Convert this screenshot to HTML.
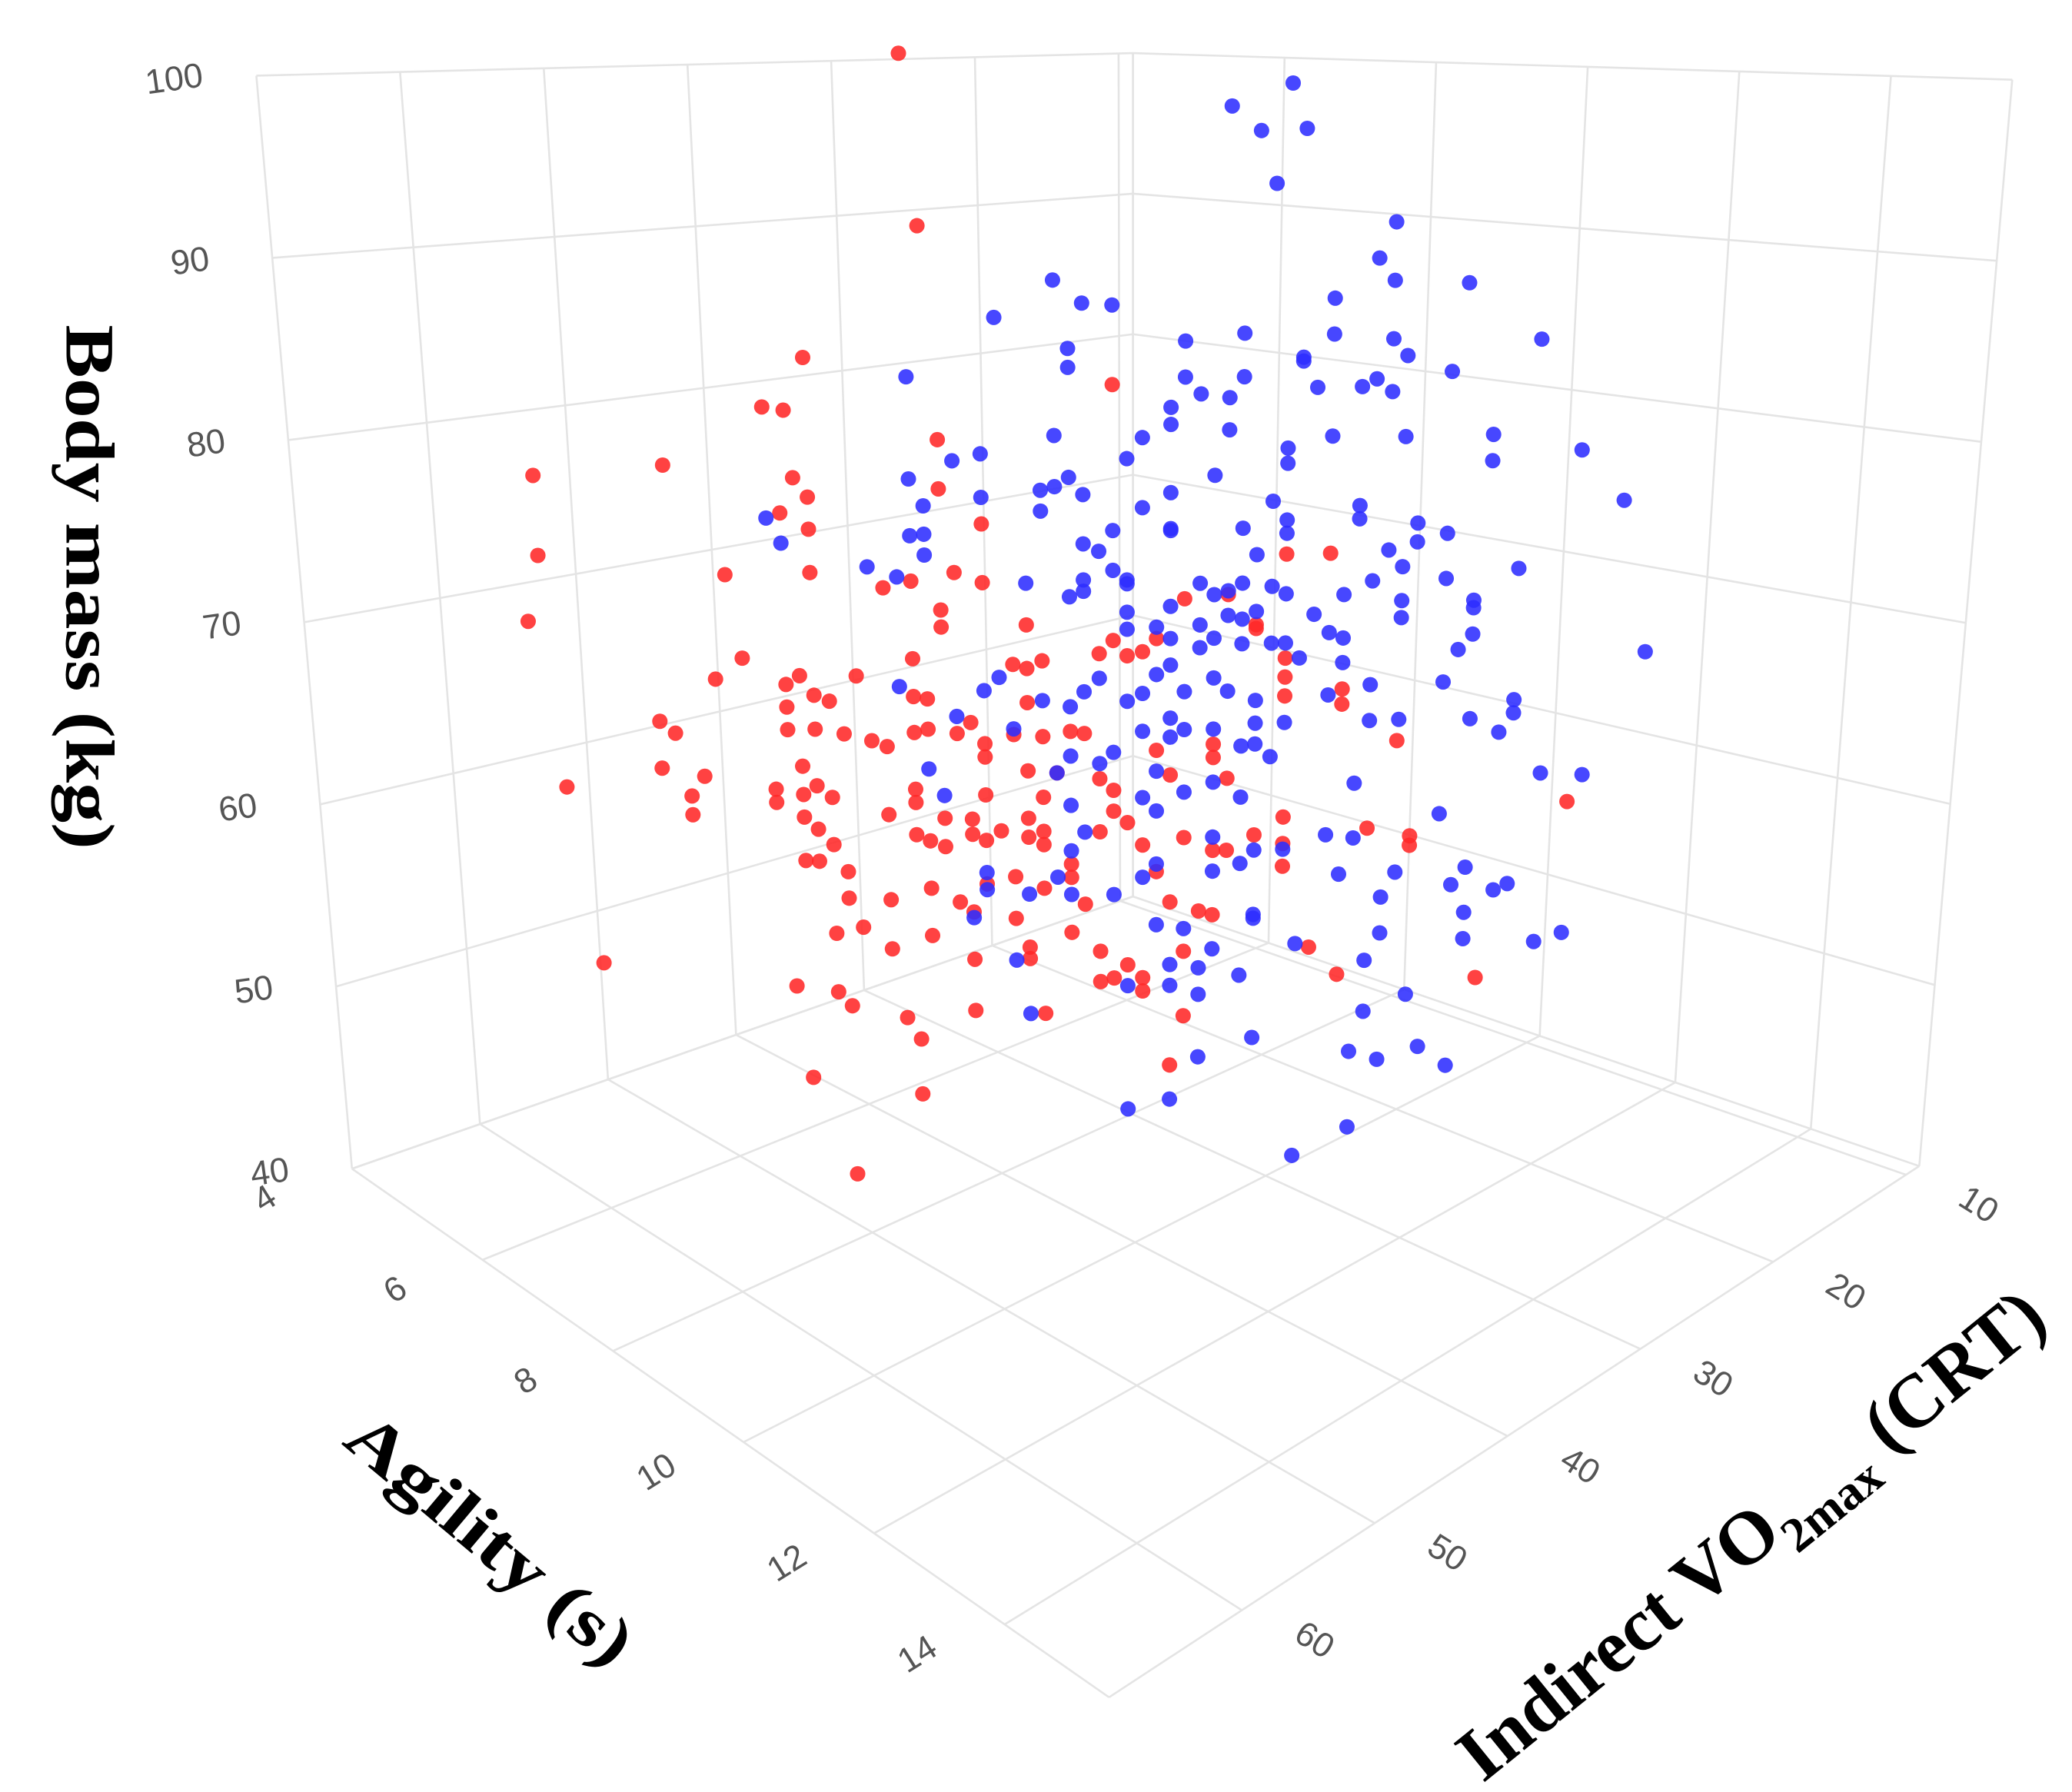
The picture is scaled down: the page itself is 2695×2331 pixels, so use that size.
<!DOCTYPE html>
<html><head><meta charset="utf-8"><style>
html,body{margin:0;padding:0;background:#fff;}
svg{display:block;}
.tick{font-family:"Liberation Sans",sans-serif;font-size:26px;fill:#555;}
.title{font-family:"Liberation Serif",serif;font-weight:bold;font-size:52px;fill:#000;}
</style></head><body>
<svg id="chart" width="2695" height="2331" viewBox="0 0 1560 1349.3" xmlns="http://www.w3.org/2000/svg">
<g id="grid"></g>
<g id="ticks"></g>
<g id="pts"></g>
<text class="title" transform="translate(50,442) rotate(90)" text-anchor="middle" textLength="395" lengthAdjust="spacingAndGlyphs">Body mass (kg)</text>
<text class="title" transform="translate(358,1172) rotate(40)" text-anchor="middle" textLength="265" lengthAdjust="spacingAndGlyphs">Agility (s)</text>
<text class="title" style="font-size:57px" transform="translate(1330,1170) rotate(-39)" text-anchor="middle">Indirect VO<tspan font-size="37" dy="15">2max</tspan><tspan dy="-15"> (CRT)</tspan></text>
</svg>
<script>
const agilityTicks=[4,6,8,10,12,14];
const vo2Ticks=[10,20,30,40,50,60];
const massTicks=[40,50,60,70,80,90,100];
const redAgility=[8.3,8.4,7.6,7.3,7.4,5.7,6.6,7.5,8.5,9.7,5.7,5.6,7.4,7.6,7.6,7.0,8.8,8.5,7.6,8.1,8.3,8.6,8.8,8.5,8.5,9.1,7.1,6.9,7.5,7.4,7.9,8.3,8.3,8.4,6.5,6.6,7.4,7.6,7.7,7.4,7.6,7.8,8.0,8.1,8.3,8.4,8.6,8.7,8.8,9.0,9.1,9.1,9.2,9.0,9.2,9.4,9.5,9.6,9.7,9.8,9.9,10.0,10.2,10.5,10.7,10.7,10.9,11.2,10.9,10.9,10.9,11.3,5.8,6.5,6.8,6.7,6.7,7.3,7.3,7.5,7.5,7.6,7.7,7.5,7.6,7.7,7.5,7.6,7.8,8.1,8.3,8.3,8.3,8.4,8.5,8.5,8.7,8.8,8.8,8.7,8.8,8.9,9.1,9.2,9.3,9.1,9.2,9.1,9.2,9.4,9.6,9.7,9.7,9.6,9.8,9.9,10.0,10.1,10.0,10.2,10.4,10.4,10.4,10.5,10.5,10.7,10.9,10.9,11.3,11.7,11.5,11.8,11.8,12.9,6.0,7.4,7.7,7.9,8.1,8.4,8.6,8.7,8.8,9.0,9.1,9.1,9.2,9.4,9.5,9.6,9.7,9.8,9.9,10.1,10.2,10.3,10.4,10.9,11.1,11.3,12.3,7.7,7.8,8.2,8.3,8.7,9.2,9.6,9.9,10.2,10.1,7.5,8.3,7.8,8.7,9.4,9.0,7.8,8.1,8.4];
const redVO2=[47.4,46.9,51.1,52.6,51.6,61.1,56.3,51.6,46.3,40.0,61.1,61.6,52.1,51.1,51.1,54.2,44.8,46.3,51.1,48.4,47.4,45.8,44.8,46.3,46.3,43.2,53.7,54.7,51.6,52.1,49.5,47.4,47.4,46.9,56.9,56.3,52.1,51.1,50.5,52.1,51.1,50.0,49.0,48.4,47.4,46.9,45.8,45.3,44.8,43.7,43.2,43.2,42.6,43.7,42.6,41.6,41.1,40.5,40.0,39.5,38.9,38.4,37.4,35.8,34.8,34.8,33.7,32.1,33.7,33.7,33.7,31.6,60.5,56.9,55.3,55.8,55.8,52.6,52.6,51.6,51.6,51.1,50.5,51.6,51.1,50.5,51.6,51.1,50.0,48.4,47.4,47.4,47.4,46.9,46.3,46.3,45.3,44.8,44.8,45.3,44.8,44.2,43.2,42.6,42.1,43.2,42.6,43.2,42.6,41.6,40.5,40.0,40.0,40.5,39.5,38.9,38.4,37.9,38.4,37.4,36.3,36.3,36.3,35.8,35.8,34.8,33.7,33.7,31.6,29.6,30.6,29.0,29.0,23.2,59.5,52.1,50.5,49.5,48.4,46.9,45.8,45.3,44.8,43.7,43.2,43.2,42.6,41.6,41.1,40.5,40.0,39.5,38.9,37.9,37.4,36.8,36.3,33.7,32.7,31.6,26.4,50.5,50.0,47.9,47.4,45.3,42.6,40.5,38.9,37.4,37.9,51.6,47.4,50.0,45.3,41.6,43.7,50.0,48.4,46.9];
const redMass=[102.1,93.0,85.9,83.2,83.0,79.0,79.9,79.5,81.7,84.7,74.7,71.1,77.6,78.5,76.8,74.2,77.3,79.1,74.5,73.8,74.2,74.7,74.2,72.7,71.8,72.0,69.8,68.6,69.0,68.5,69.1,70.1,68.1,68.0,66.2,65.6,67.3,68.0,67.7,66.1,66.2,66.0,65.7,65.4,66.2,66.4,66.2,66.8,65.7,69.9,69.7,67.9,70.1,66.2,66.1,66.4,66.3,70.5,71.2,70.4,70.6,71.3,73.4,73.6,71.8,72.0,75.7,75.7,70.2,69.2,68.2,67.7,62.3,63.7,63.4,62.3,61.3,62.9,62.2,64.2,62.7,63.2,62.6,61.5,60.9,60.1,59.2,59.2,58.7,61.8,63.2,62.5,60.8,60.5,61.7,60.2,60.9,65.0,63.0,61.7,60.6,61.1,64.3,62.9,64.2,61.8,61.1,60.8,60.4,58.7,63.9,63.3,62.2,61.1,61.6,60.4,65.4,64.1,59.0,60.8,60.1,65.0,65.7,63.9,60.1,60.9,60.4,61.8,68.5,65.7,61.1,60.6,60.1,62.0,53.0,52.5,55.4,55.8,54.7,55.5,57.3,56.8,58.3,56.5,54.4,55.0,58.1,55.8,57.3,54.8,53.4,54.1,53.4,57.4,54.8,56.9,56.7,59.2,54.9,53.4,52.9,52.3,51.6,51.1,50.0,54.3,51.5,53.2,52.7,51.4,48.8,47.7,47.1,42.7,51.6,59.4,58.7,57.3,57.3,58.0];
const blueAgility=[10.9,10.5,10.7,11.0,10.8,11.6,11.5,11.6,12.1,9.3,9.5,9.7,8.9,11.2,12.6,10.2,10.6,11.2,11.0,11.6,11.7,11.0,9.4,9.4,8.3,12.0,10.2,11.1,11.5,10.3,10.1,10.5,10.6,11.4,11.6,10.1,10.5,11.2,11.7,12.3,12.9,8.8,8.6,9.3,9.9,10.9,10.9,9.8,12.3,8.3,8.4,8.8,9.2,9.2,9.4,9.3,9.5,9.9,10.1,10.4,10.8,11.4,10.9,13.2,7.3,7.4,8.3,8.0,8.2,8.4,8.4,9.5,9.7,9.6,9.7,9.8,9.8,10.1,10.1,10.6,10.7,10.9,11.4,11.8,11.8,12.0,12.5,11.6,11.7,12.0,12.2,12.2,13.4,9.5,9.5,9.1,9.4,9.8,9.8,10.1,10.0,10.3,10.4,10.5,10.6,10.8,10.9,10.7,10.5,10.3,10.1,10.3,10.4,10.6,11.1,11.3,11.5,11.7,12.2,12.1,12.0,10.8,10.6,10.9,11.0,11.2,11.3,11.7,11.3,8.2,8.9,8.8,8.6,9.0,9.2,9.4,9.5,9.6,9.8,9.9,10.0,10.1,10.4,10.2,10.1,9.9,10.1,10.2,10.4,10.5,10.7,10.7,10.9,11.2,11.5,11.5,11.7,12.2,12.5,12.5,12.4,13.0,12.7,8.4,8.5,9.4,9.3,9.6,9.7,9.9,10.0,10.0,10.2,10.4,10.6,10.7,10.8,10.6,10.4,10.4,10.6,10.7,10.9,11.2,11.4,11.4,12.0,12.2,12.4,12.5,12.2,12.1,11.3,11.7,11.6,9.4,9.5,9.4,9.3,9.1,9.4,9.7,9.9,10.0,10.0,10.2,10.1,10.1,10.3,10.4,10.7,10.7,11.0,11.5,11.6,11.8,8.8,8.8,8.7,9.0,9.1,9.8,10.3,10.6,10.7,10.3,9.8,10.1,11.0,11.4,11.4,11.5,11.6,11.9,12.1,12.9,12.7,12.2];
const blueVO2=[33.7,35.8,34.8,33.2,34.2,30.0,30.6,30.0,27.4,42.1,41.1,40.0,44.2,32.1,24.8,37.4,35.3,32.1,33.2,30.0,29.5,33.2,41.6,41.6,47.4,27.9,37.4,32.7,30.6,36.8,37.9,35.8,35.3,31.1,30.0,37.9,35.8,32.1,29.5,26.4,23.2,44.8,45.8,42.1,38.9,33.7,33.7,39.5,26.4,47.4,46.9,44.8,42.6,42.6,41.6,42.1,41.1,38.9,37.9,36.3,34.2,31.1,33.7,21.6,52.6,52.1,47.4,49.0,47.9,46.9,46.9,41.1,40.0,40.5,40.0,39.5,39.5,37.9,37.9,35.3,34.8,33.7,31.1,29.0,29.0,27.9,25.3,30.0,29.5,27.9,26.9,26.9,20.6,41.1,41.1,43.2,41.6,39.5,39.5,37.9,38.4,36.8,36.3,35.8,35.3,34.2,33.7,34.8,35.8,36.8,37.9,36.8,36.3,35.3,32.7,31.6,30.6,29.5,26.9,27.4,27.9,34.2,35.3,33.7,33.2,32.1,31.6,29.5,31.6,47.9,44.2,44.8,45.8,43.7,42.6,41.6,41.1,40.5,39.5,38.9,38.4,37.9,36.3,37.4,37.9,38.9,37.9,37.4,36.3,35.8,34.8,34.8,33.7,32.1,30.6,30.6,29.5,26.9,25.3,25.3,25.8,22.7,24.2,46.9,46.3,41.6,42.1,40.5,40.0,38.9,38.4,38.4,37.4,36.3,35.3,34.8,34.2,35.3,36.3,36.3,35.3,34.8,33.7,32.1,31.1,31.1,27.9,26.9,25.8,25.3,26.9,27.4,31.6,29.5,30.0,41.6,41.1,41.6,42.1,43.2,41.6,40.0,38.9,38.4,38.4,37.4,37.9,37.9,36.8,36.3,34.8,34.8,33.2,30.6,30.0,29.0,44.8,44.8,45.3,43.7,43.2,39.5,36.8,35.3,34.8,36.8,39.5,37.9,33.2,31.1,31.1,30.6,30.0,28.5,27.4,23.2,24.2,26.9];
const blueMass=[100.6,99.4,98.1,98.2,95.3,93.2,91.3,90.1,89.9,90.2,89.0,88.9,88.2,89.2,86.8,87.0,87.4,87.3,86.1,87.0,86.1,85.9,86.6,85.6,85.0,85.2,85.1,84.5,84.9,84.2,83.5,84.0,85.1,84.5,84.2,82.6,82.3,81.9,81.8,81.8,80.8,81.0,80.6,82.0,81.9,81.3,80.5,80.8,80.4,79.6,78.2,78.7,79.1,78.0,79.8,79.3,78.9,78.2,79.0,79.9,78.5,78.2,77.5,78.0,77.3,76.0,76.6,74.9,74.4,76.7,75.6,76.3,77.0,75.9,74.9,74.2,74.4,77.0,77.1,77.1,75.7,76.8,77.5,77.2,76.2,76.6,74.6,75.8,74.9,74.2,73.0,72.6,69.8,74.4,73.8,74.2,73.5,72.7,71.8,73.0,71.9,74.2,73.6,73.8,74.2,74.0,73.6,72.7,72.5,72.0,71.3,70.8,71.3,72.3,72.5,73.5,74.2,73.1,71.2,70.4,68.7,71.0,71.0,71.0,70.2,71.5,69.9,72.2,71.2,68.6,69.2,68.5,67.1,66.5,68.0,67.7,68.5,69.2,68.0,68.4,69.4,69.9,69.2,68.5,67.1,66.4,66.1,66.5,66.5,68.5,68.0,66.8,66.8,68.2,68.7,66.8,66.8,66.7,67.6,66.9,65.9,63.4,63.6,64.3,62.9,65.1,64.2,64.7,65.3,62.9,64.3,62.2,63.2,63.7,65.6,65.7,65.0,62.9,60.8,59.0,59.4,60.1,60.1,60.8,60.6,63.5,61.7,58.8,57.5,57.8,56.4,57.9,58.7,58.7,57.4,62.5,61.1,60.1,58.7,57.8,57.8,57.8,58.7,59.4,56.2,56.0,54.1,53.0,53.9,54.9,56.5,56.7,55.1,54.1,55.5,52.2,58.9,58.0,56.5,54.3,51.5,53.0,52.5,53.5,50.2,49.2,46.5,47.0,43.9,45.3,49.3,51.4,48.8,49.4,48.3,55.0,54.6,55.0];

const A_MIN=4,A_MAX=15.6,V_MIN=9,V_MAX=70,M_MIN=40,M_MAX=100;
const FB=[853,675],FR=[1445,878],FL=[265,880],FF=[835,1278];
const TB=[853,40],TR=[1515,60],TL=[193,57],TF=[830,128];
function bil(P0,PR,PL,PF,s,t){
  return [P0[0]*(1-s)*(1-t)+PR[0]*s*(1-t)+PL[0]*(1-s)*t+PF[0]*s*t,
          P0[1]*(1-s)*(1-t)+PR[1]*s*(1-t)+PL[1]*(1-s)*t+PF[1]*s*t];
}
function project(a,v,m){
  const s=(a-A_MIN)/(A_MAX-A_MIN), t=(v-V_MIN)/(V_MAX-V_MIN), u=(m-M_MIN)/(M_MAX-M_MIN);
  const f=bil(FB,FR,FL,FF,s,t), p=bil(TB,TR,TL,TF,s,t);
  return [f[0]+(p[0]-f[0])*u, f[1]+(p[1]-f[1])*u];
}
const NS='http://www.w3.org/2000/svg';
const grid=document.getElementById('grid');
function line(p,q,name){
  const el=document.createElementNS(NS,'line');
  el.setAttribute('x1',p[0]);el.setAttribute('y1',p[1]);el.setAttribute('x2',q[0]);el.setAttribute('y2',q[1]);
  el.setAttribute('stroke','#e4e4e4');el.setAttribute('stroke-width','1.5');
  
  
  grid.appendChild(el);
}
massTicks.forEach(m=>{
  line(project(A_MIN,V_MAX,m),project(A_MIN,V_MIN,m),'mass-gridline-left');
  line(project(A_MIN,V_MIN,m),project(A_MAX,V_MIN,m),'mass-gridline-right');
});
vo2Ticks.concat([V_MAX]).forEach(v=>{
  line(project(A_MIN,v,M_MIN),project(A_MIN,v,M_MAX),'vo2-gridline-wall');
  line(project(A_MIN,v,M_MIN),project(A_MAX,v,M_MIN),'vo2-gridline-floor');
});
agilityTicks.concat([A_MAX]).forEach(a=>{
  line(project(a,V_MIN,M_MIN),project(a,V_MIN,M_MAX),'agility-gridline-wall');
  line(project(a,V_MIN,M_MIN),project(a,V_MAX,M_MIN),'agility-gridline-floor');
});
line(project(A_MIN,V_MIN,M_MIN),project(A_MIN,V_MIN,M_MAX),'back-edge');
const ticks=document.getElementById('ticks');
function label(txt,x,y,rot,name){
  const el=document.createElementNS(NS,'text');
  el.setAttribute('class','tick');
  el.setAttribute('text-anchor','middle');
  el.setAttribute('transform','translate('+x+','+y+') rotate('+rot+')');
  el.setAttribute('dy','9');
  el.textContent=txt;
  
  
  ticks.appendChild(el);
}
massTicks.forEach(m=>{const p=project(A_MIN,V_MAX,m);label(m,p[0]-62,p[1]+2,-8,'mass-tick-label');});
agilityTicks.forEach(a=>{const p=project(a,V_MAX,M_MIN);label(a,p[0]-66,p[1]+22,-32,'agility-tick-label');});
vo2Ticks.forEach(v=>{const p=project(A_MAX,v,M_MIN);label(v,p[0]+55,p[1]+22,32,'vo2-tick-label');});
const pts=document.getElementById('pts');
function drawSeries(A,V,M,color,name){
  const n=Math.min(A.length,V.length,M.length);
  for(let i=0;i<n;i++){
    const p=project(A[i],V[i],M[i]);
    const c=document.createElementNS(NS,'circle');
    c.setAttribute('cx',p[0]);c.setAttribute('cy',p[1]);c.setAttribute('r','5.8');
    c.setAttribute('fill',color);c.setAttribute('fill-opacity','0.88');
    
    
    pts.appendChild(c);
  }
}
drawSeries(redAgility,redVO2,redMass,'#ff2828','red-point');
drawSeries(blueAgility,blueVO2,blueMass,'#2e2eff','blue-point');
</script>
</body></html>
